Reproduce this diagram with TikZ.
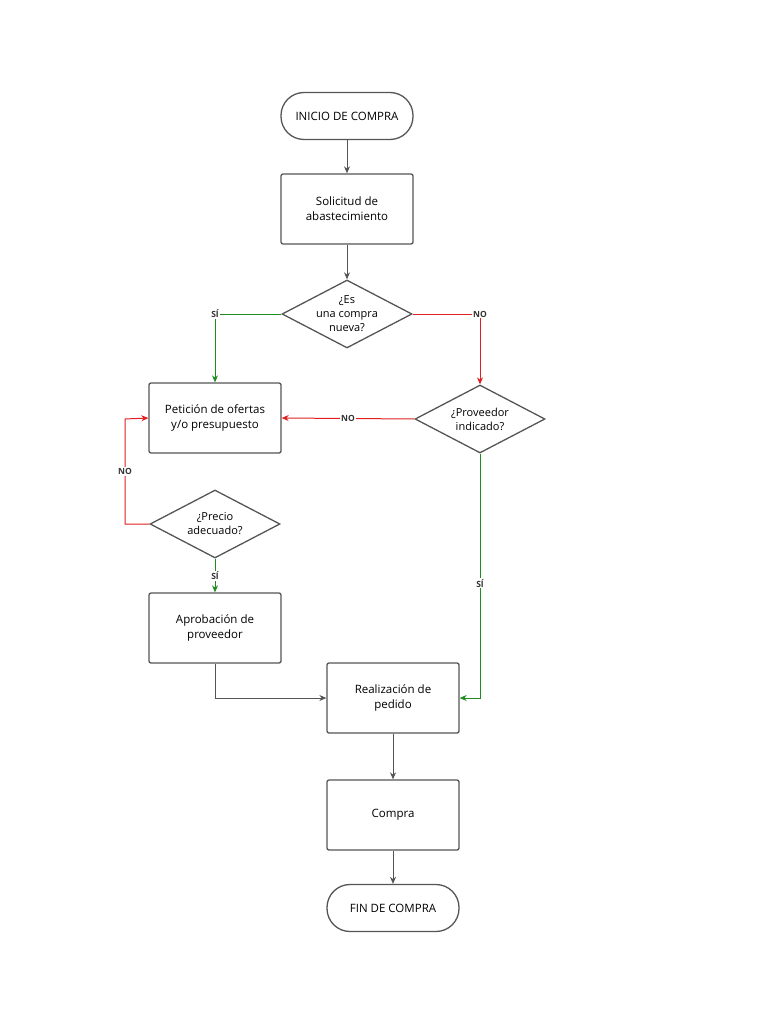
\documentclass[tikz,border=0pt]{standalone}
\usepackage{fontspec}
\setmainfont{Open Sans}
\usetikzlibrary{shapes.geometric,arrows.meta}
\definecolor{ln}{HTML}{555555}
\definecolor{gr}{HTML}{1E8C1E}
\definecolor{rd}{HTML}{E02020}
\begin{document}
\begin{tikzpicture}[x=1pt,y=-1pt,
  box/.style={draw=ln,line width=1.3pt,rectangle,rounded corners=2pt,minimum width=132pt,minimum height=70pt,align=center,font=\fontsize{11.5}{15}\selectfont},
  pill/.style={draw=ln,line width=1.3pt,rectangle,rounded corners=23pt,minimum width=132pt,minimum height=47pt,align=center,font=\fontsize{11.5}{15}\selectfont},
  dia/.style={draw=ln,line width=1.3pt,diamond,inner sep=-2pt,shape aspect=1.9,minimum width=130pt,minimum height=68pt,align=center,font=\fontsize{11}{14}\selectfont},
  ar/.style={line width=1pt,-{Stealth[length=7pt,width=6pt]}},
  lab/.style={font=\fontsize{8.5}{10}\selectfont\bfseries,text=black!80,fill=white,inner sep=1pt}]
\useasboundingbox (0,0) rectangle (768,1024);
\node[pill] (ini) at (347,116) {INICIO DE COMPRA};
\node[box] (sol) at (347,209) {Solicitud de\\abastecimiento};
\node[dia] (d1) at (347,314) {¿Es\\una compra\\nueva?};
\node[box] (pet) at (215,418) {Petición de ofertas\\y/o presupuesto};
\node[dia] (d2) at (480,419) {¿Proveedor\\indicado?};
\node[dia] (d3) at (215,524) {¿Precio\\adecuado?};
\node[box] (apr) at (215,628) {Aprobación de\\proveedor};
\node[box] (rea) at (393,698) {Realización de\\pedido};
\node[box] (com) at (393,815) {Compra};
\node[pill] (fin) at (393,908) {FIN DE COMPRA};
\coordinate (c1) at (125,524);
\coordinate (c2) at (125,419);
\draw[ar,ln] (ini) -- (sol);
\draw[ar,ln] (sol) -- (d1);
\draw[ar,gr] (d1.west) -| node[lab,pos=0.5]{SÍ} (pet.north);
\draw[ar,rd] (d1.east) -| node[lab,pos=0.5]{NO} (d2.north);
\draw[ar,rd] (d2.west) -- node[lab]{NO} (pet.east);
\draw[ar,rd] (d3.west) -- (c1) -- node[lab]{NO} (c2) -- (pet.west);
\draw[ar,gr] (d3.south) -- node[lab]{SÍ} (apr.north);
\draw[ar,ln] (apr.south) |- (rea.west);
\draw[ar,gr] (d2.south) |- node[lab,pos=0.265]{SÍ} (rea.east);
\draw[ar,ln] (rea) -- (com);
\draw[ar,ln] (com) -- (fin);
\end{tikzpicture}
\end{document}
